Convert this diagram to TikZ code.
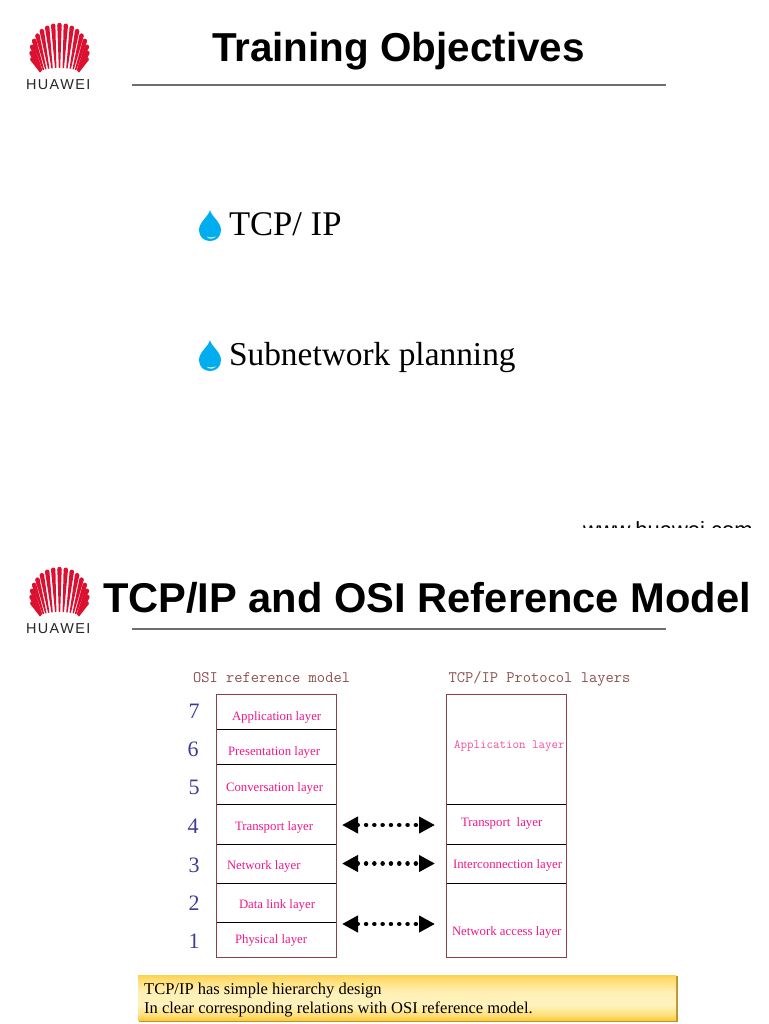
\documentclass[tikz,border=0pt]{standalone}
\usepackage{fontspec}
\setmainfont{Liberation Serif}
\newfontfamily\hsans{Liberation Sans}
\newfontfamily\hmono{Latin Modern Mono}
\usetikzlibrary{arrows.meta,calc}
\definecolor{petal}{HTML}{DC1030}
\definecolor{rule}{HTML}{6E6E6E}
\definecolor{drop}{HTML}{00ADEF}
\definecolor{cellborder}{HTML}{8E4048}
\definecolor{cellpink}{HTML}{F0188A}
\definecolor{paleink}{HTML}{F050A0}
\definecolor{headbrown}{HTML}{8E5050}
\definecolor{numblue}{HTML}{3C3C9C}
\definecolor{noteedge}{HTML}{B8952A}
\pgfdeclareverticalshading{notefill}{100bp}{%
  rgb(0bp)=(1,0.79,0.24);
  rgb(25bp)=(1,0.79,0.24);
  rgb(31bp)=(1,0.886,0.49);
  rgb(42bp)=(1,0.95,0.745);
  rgb(56bp)=(1,0.94,0.706);
  rgb(70bp)=(1,0.87,0.45);
  rgb(75bp)=(1,0.815,0.314);
  rgb(100bp)=(1,0.815,0.314)}
\tikzset{
  x=1pt,y=-1pt,
  txt/.style={anchor=base west,inner sep=0pt,outer sep=0pt},
  title/.style={txt,font=\hsans\bfseries\fontsize{40.4}{40}\selectfont,text=black},
  bullettext/.style={txt,text=black},
  celltext/.style={txt,font=\fontsize{12.8}{12.8}\selectfont,text=cellpink},
  head/.style={txt,font=\hmono\fontsize{16.05}{16}\selectfont,text=headbrown},
  num/.style={anchor=center,inner sep=0pt,font=\fontsize{22}{22}\selectfont,text=numblue},
  cell/.style={draw=black,line width=1pt,minimum width=120pt,anchor=north west,inner sep=0pt,outer sep=0pt},
  frame/.style={draw=cellborder,line width=0.9pt},
  hrule/.style={draw=rule,line width=1.5pt},
  dotted arrow/.style={line width=4.4pt,line cap=round,dash pattern=on 0.1pt off 8.2pt,dash phase=7.6pt,
    {Triangle[length=16pt,width=16pt]}-{Triangle[length=16pt,width=16pt]},black},
  brand/.style={txt,font=\hsans\fontsize{14.4}{14.4}\selectfont,text=black!85},
}
\newcommand{\hwlogo}[1]{%
  \begin{scope}[shift={(0,#1)}]
    \foreach \i in {-8,...,8}{
      \pgfmathsetmacro{\tipx}{59.5+28*sin(\i*13)}
      \pgfmathsetmacro{\tipy}{52.5-27.5*cos(\i*13)}
      \pgfmathsetmacro{\inx}{59.5+19*sin(\i*11.5)}
      \pgfmathsetmacro{\iny}{72-4*cos(\i*11.5)}
      \coordinate (T) at (\tipx,\tipy);
      \coordinate (I) at (\inx,\iny);
      \fill[petal] ($(I)!0.7pt!90:(T)$) -- ($(T)!2.2pt!-90:(I)$)
        -- ($(T)!2.2pt!90:(I)$) -- ($(I)!0.7pt!-90:(T)$) -- cycle;
      \fill[petal] (T) circle[radius=2.2pt];
    }
    \node[brand] at (26,89.5) {H\kern1.4pt U\kern1.4pt A\kern1.1pt W\kern1.4pt E\kern1.4pt I};
  \end{scope}}
\newcommand{\waterdrop}[2]{%
  \begin{scope}[shift={(#1,#2)}]
    \fill[drop] (11,0) .. controls (12,6) and (22,12) .. (22,20)
      .. controls (22,27) and (17,31) .. (11,31)
      .. controls (5,31) and (0,27) .. (0,20)
      .. controls (0,12) and (10,6) .. (11,0) -- cycle;
    \fill[white,opacity=.8] (7.5,26.6) .. controls (10,29.4) and (14,29.4) .. (17,26.6)
      .. controls (14,27.6) and (10,27.6) .. (7.5,26.6) -- cycle;
  \end{scope}}
\begin{document}
\begin{tikzpicture}
\useasboundingbox (0,0) rectangle (768,1024);
\fill[white] (0,0) rectangle (768,1024);

% first slide
\hwlogo{0}
\node[title] (t1) at (212,62) {Training Objectives};
\coordinate (r1a) at (132,85); \coordinate (r1b) at (666,85);
\draw[hrule] (r1a) -- (r1b);
\waterdrop{199}{210}
\node[bullettext,font=\fontsize{34.6}{34}\selectfont] (b1) at (229,235.5) {TCP/ IP};
\waterdrop{199}{340}
\node[bullettext,font=\fontsize{33.4}{34}\selectfont] (b2) at (229,365) {Subnetwork planning};
\begin{scope}
  \clip (540,500) rectangle (768,527);
  \node[txt,font=\hsans\fontsize{21.95}{22}\selectfont] (url) at (583,537.4) {www.huawei.com};
\end{scope}

% second slide
\hwlogo{544}
\node[title,font=\hsans\bfseries\fontsize{41.65}{41.5}\selectfont] (t2) at (103,612) {TCP/IP and OSI Reference Model};
\coordinate (r2a) at (132,629); \coordinate (r2b) at (666,629);
\draw[hrule] (r2a) -- (r2b);

\node[head] (hl) at (193,682) {OSI reference model};
\node[head] (hr) at (448.5,682) {TCP/IP Protocol layers};

% left column
\node[cell,minimum height=35pt] (l7) at (216,694) {};
\node[cell,minimum height=35pt] (l6) at (216,729) {};
\node[cell,minimum height=40pt] (l5) at (216,764) {};
\node[cell,minimum height=40pt] (l4) at (216,804) {};
\node[cell,minimum height=39pt] (l3) at (216,844) {};
\node[cell,minimum height=39pt] (l2) at (216,883) {};
\node[cell,minimum height=35pt] (l1) at (216,922) {};
\draw[frame] (l7.north west) rectangle (l1.south east);
% right column
\node[cell,minimum height=110pt] (r5) at (446,694) {};
\node[cell,minimum height=40pt] (r4) at (446,804) {};
\node[cell,minimum height=39pt] (r3) at (446,844) {};
\node[cell,minimum height=74pt] (r1) at (446,883) {};
\draw[frame] (r5.north west) rectangle (r1.south east);

\node[celltext] (lt7) at (232,720) {Application layer};
\node[celltext] (lt6) at (228,755) {Presentation layer};
\node[celltext] (lt5) at (226,791) {Conversation layer};
\node[celltext] (lt4) at (235,830) {Transport layer};
\node[celltext] (lt3) at (227,869) {Network layer};
\node[celltext] (lt2) at (239,908) {Data link layer};
\node[celltext] (lt1) at (235,943) {Physical layer};

\node[celltext,font=\hmono\fontsize{12.65}{12.65}\selectfont,text=paleink] (rt5) at (454,748) {Application layer};
\node[celltext] (rt4) at (461,826) {Transport\ \ layer};
\node[celltext] (rt3) at (453,868) {Interconnection layer};
\node[celltext] (rt1) at (452,935) {Network access layer};

\node[num] (n7) at (194,711.5) {7};
\node[num] (n6) at (193,749.5) {6};
\node[num] (n5) at (194,787.5) {5};
\node[num] (n4) at (193,826) {4};
\node[num] (n3) at (194,865) {3};
\node[num] (n2) at (194,903.5) {2};
\node[num] (n1) at (194,941) {1};

% arrows
\coordinate (a4l) at (342,825); \coordinate (a4r) at (435,825);
\coordinate (a3l) at (342,863.5); \coordinate (a3r) at (435,863.5);
\coordinate (a1l) at (342,924); \coordinate (a1r) at (435,924);
\draw[dotted arrow] (a4l) -- (a4r);
\draw[dotted arrow] (a3l) -- (a3r);
\draw[dotted arrow] (a1l) -- (a1r);

% note
\fill[noteedge] (139,976) rectangle (678,1022);
\node[anchor=north west,minimum width=538pt,minimum height=45pt,inner sep=0pt,outer sep=0pt,
  shading=notefill] (note) at (138,975) {};
\node[anchor=north west,inner sep=0pt,align=left,font=\fontsize{16.5}{19.5}\selectfont,text=black] (notetext) at (144,982.5)
  {TCP/IP has simple hierarchy design\\In clear corresponding relations with OSI reference model.};
\end{tikzpicture}
\end{document}
